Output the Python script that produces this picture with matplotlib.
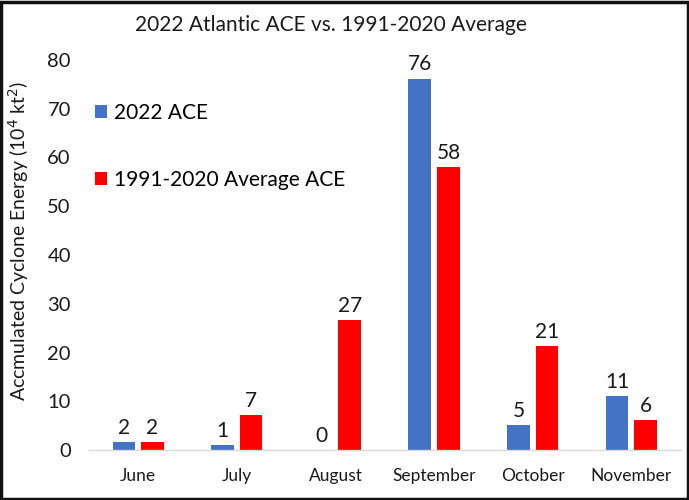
import matplotlib
matplotlib.use("Agg")
import matplotlib.pyplot as plt
import numpy as np

months = ["June", "July", "August", "September", "October", "November"]
ace_2022 = [1.7, 1.0, 0.0, 76.2, 5.1, 11.1]
ace_avg = [1.6, 7.2, 26.7, 58.0, 21.4, 6.2]
series_names = ["2022 ACE", "1991-2020 Average ACE"]
yticks = [0, 10, 20, 30, 40, 50, 60, 70, 80]

plt.rcParams['font.family'] = ['Lato', 'DejaVu Sans']

fig = plt.figure(figsize=(6.89, 5.0), dpi=100)
ax = fig.add_axes([0.129, 0.10, 0.859, 0.78])

x = np.arange(len(months))
w = 0.23
off = 0.145
blue = "#4472C4"
red = "#FF0000"
b1 = ax.bar(x - off, ace_2022, w, color=blue, label=series_names[0])
b2 = ax.bar(x + off, ace_avg, w, color=red, label=series_names[1])

for bars, vals in ((b1, ace_2022), (b2, ace_avg)):
    for rect, v in zip(bars, vals):
        ax.annotate(f"{v:.0f}", (rect.get_x() + rect.get_width() / 2, v),
                    xytext=(0, 3), textcoords="offset points",
                    ha="center", va="bottom", fontsize=15, color="#1a1a1a")

ax.set_xlim(-0.5, len(months) - 0.5)
ax.set_ylim(0, 80)
ax.set_yticks(yticks)
ax.set_xticks(x)
ax.set_xticklabels(months, fontsize=12.5)
ax.tick_params(axis='y', labelsize=14.5, length=0, pad=13, colors="#1a1a1a")
ax.tick_params(axis='x', length=0, pad=13, colors="#1a1a1a")
for s in ["top", "right", "left"]:
    ax.spines[s].set_visible(False)
ax.spines["bottom"].set_color("#d9d9d9")
ax.spines["bottom"].set_linewidth(1.0)

ax.set_ylabel("Accmulated Cyclone Energy (10$^4$ kt$^2$)", fontsize=14,
              color="#1a1a1a")
ax.yaxis.set_label_coords(-0.097, 0.535)

fig.suptitle("2022 Atlantic ACE vs. 1991-2020 Average", x=0.481, y=0.97,
             fontsize=15, color="#1a1a1a")

leg = ax.legend(loc="upper left", bbox_to_anchor=(-0.022, 0.938), frameon=False,
                fontsize=15, handlelength=0.58, handleheight=0.58,
                handletextpad=0.35, labelspacing=2.25)

# Outer frame
fig.patches.append(plt.Rectangle((0.002, 0.003), 0.996, 0.994, transform=fig.transFigure,
                                 fill=False, edgecolor="#111111", linewidth=2.5))

fig.savefig("out.png", dpi=100)
